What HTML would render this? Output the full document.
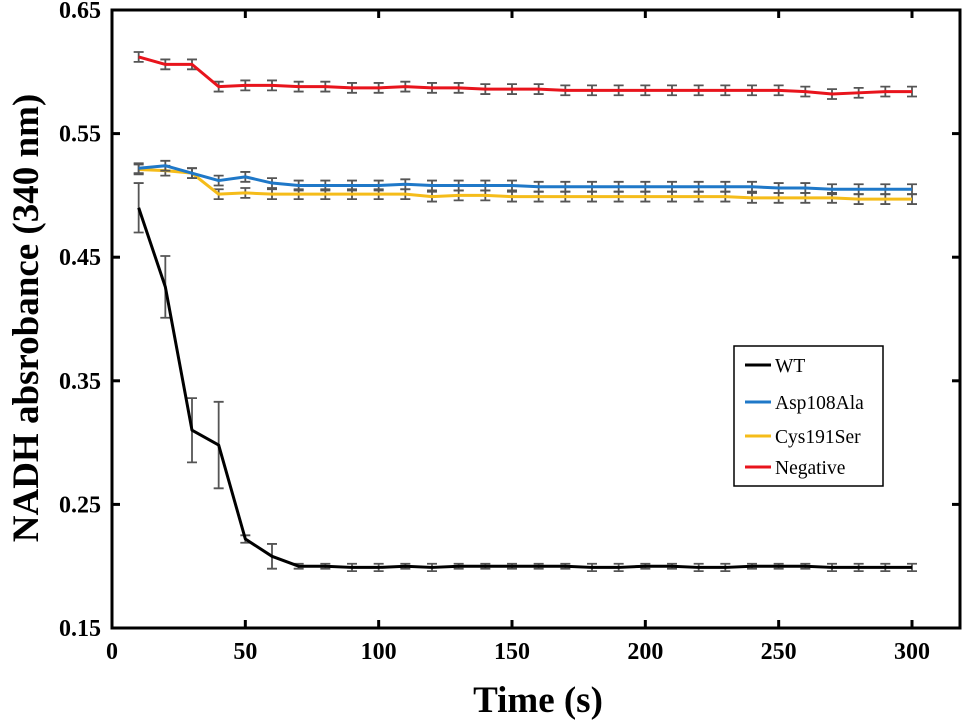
<!DOCTYPE html>
<html><head><meta charset="utf-8"><style>
body{margin:0;background:#fff}
svg{display:block;font-family:"Liberation Serif",serif}
</style></head><body>
<svg id="chart" width="968" height="724" viewBox="0 0 968 724">
<rect x="112" y="10" width="848" height="618" fill="none" stroke="#000" stroke-width="3"/>
<g id="axes"></g>
<g id="series"></g>
<text x="0" y="0" transform="translate(38,318) rotate(-90)" text-anchor="middle" font-size="37" font-weight="bold">NADH absrobance (340 nm)</text>
<text x="538" y="712" text-anchor="middle" font-size="37" font-weight="bold">Time (s)</text>
<g>
<rect x="734" y="346" width="149" height="140" fill="#fff" stroke="#000" stroke-width="1.5"/>
<g id="legend"></g>
</g>
</svg>
<script>
const times=[10,20,30,40,50,60,70,80,90,100,110,120,130,140,150,160,170,180,190,200,210,220,230,240,250,260,270,280,290,300];
const wt=[0.49,0.426,0.31,0.298,0.222,0.208,0.2,0.2,0.199,0.199,0.2,0.199,0.2,0.2,0.2,0.2,0.2,0.199,0.199,0.2,0.2,0.199,0.199,0.2,0.2,0.2,0.199,0.199,0.199,0.199];
const wtErr=[0.02,0.025,0.026,0.035,0.003,0.01,0.002,0.002,0.003,0.003,0.002,0.003,0.002,0.002,0.002,0.002,0.002,0.003,0.003,0.002,0.002,0.003,0.003,0.002,0.002,0.002,0.003,0.003,0.003,0.003];
const asp=[0.522,0.524,0.518,0.512,0.515,0.51,0.508,0.508,0.508,0.508,0.509,0.508,0.508,0.508,0.508,0.507,0.507,0.507,0.507,0.507,0.507,0.507,0.507,0.507,0.506,0.506,0.505,0.505,0.505,0.505];
const cys=[0.521,0.52,0.518,0.501,0.502,0.501,0.501,0.501,0.501,0.501,0.501,0.499,0.5,0.5,0.499,0.499,0.499,0.499,0.499,0.499,0.499,0.499,0.499,0.498,0.498,0.498,0.498,0.497,0.497,0.497];
const neg=[0.612,0.606,0.606,0.588,0.589,0.589,0.588,0.588,0.587,0.587,0.588,0.587,0.587,0.586,0.586,0.586,0.585,0.585,0.585,0.585,0.585,0.585,0.585,0.585,0.585,0.584,0.582,0.583,0.584,0.584];
const errSmall=0.004;
const xTicks=[0,50,100,150,200,250,300];
const yTicks=[0.15,0.25,0.35,0.45,0.55,0.65];
const seriesNames=["WT","Asp108Ala","Cys191Ser","Negative"];
const NS="http://www.w3.org/2000/svg";
function X(t){return 112+t*(800/300);}
function Y(v){return 628-(v-0.15)*(618/0.5);}
function mk(tag,attrs,parent){const e=document.createElementNS(NS,tag);for(const k in attrs)e.setAttribute(k,attrs[k]);parent.appendChild(e);return e;}
const axes=document.getElementById('axes');
xTicks.forEach(t=>{
  let l=mk('line',{x1:X(t),x2:X(t),y1:628,y2:620,stroke:'#000','stroke-width':3},axes);
  
  
  let l2=mk('line',{x1:X(t),x2:X(t),y1:10,y2:18,stroke:'#000','stroke-width':3},axes);
  
  
  let tx=mk('text',{x:X(t),y:659,'text-anchor':'middle','font-size':24,'font-weight':'bold'},axes);
  tx.textContent=t;
  
  
});
yTicks.forEach(v=>{
  let l=mk('line',{x1:112,x2:120,y1:Y(v),y2:Y(v),stroke:'#000','stroke-width':3},axes);
  
  
  let l2=mk('line',{x1:960,x2:952,y1:Y(v),y2:Y(v),stroke:'#000','stroke-width':3},axes);
  
  
  let tx=mk('text',{x:101,y:Y(v)+8,'text-anchor':'end','font-size':24,'font-weight':'bold'},axes);
  tx.textContent=v.toFixed(2);
  
  
});
const sg=document.getElementById('series');
function draw(vals,errs,color,name){
  const g=mk('g',{},sg);
  
  
  vals.forEach((v,i)=>{
    const e=Array.isArray(errs)?errs[i]:errs;
    const x=X(times[i]);
    const eb=mk('path',{d:`M${x},${Y(v-e)}V${Y(v+e)}M${x-5},${Y(v-e)}H${x+5}M${x-5},${Y(v+e)}H${x+5}`,stroke:'#555','stroke-width':1.8,fill:'none'},g);
    
    
  });
  const ln=mk('polyline',{points:vals.map((v,i)=>X(times[i])+','+Y(v)).join(' '),fill:'none',stroke:color,'stroke-width':3,'stroke-linejoin':'round'},g);
  
  
}
draw(neg,errSmall,'#e8141c','negative');
draw(cys,errSmall,'#f5bc1a','cys191ser');
draw(asp,errSmall,'#1f78c8','asp108ala');
draw(wt,wtErr,'#000','wt');
const colors=['#000','#1f78c8','#f5bc1a','#e8141c'];
const legY=[365,402,436,467];
const lg=document.getElementById('legend');
seriesNames.forEach((n,i)=>{
  const y=legY[i];
  const l=mk('line',{x1:745,x2:771,y1:y,y2:y,stroke:colors[i],'stroke-width':3},lg);
  
  
  const t=mk('text',{x:775,y:y+7,'font-size':19.5},lg);
  t.textContent=n;
  
  
});
</script>
</body></html>
